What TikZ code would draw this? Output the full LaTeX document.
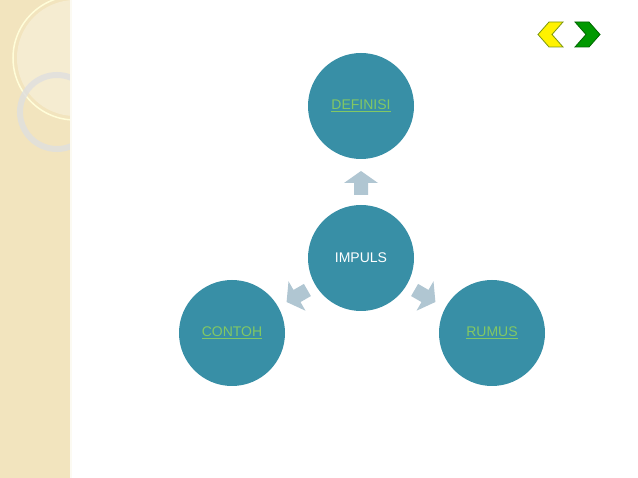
\documentclass[tikz,border=0pt]{standalone}
\usepackage{fontspec}
\setmainfont{Liberation Sans}
\begin{document}
\begin{tikzpicture}[x=1pt,y=-1pt,
  bub/.style={circle,minimum size=106pt,inner sep=0pt,font=\fontsize{14}{16}\selectfont}]
\definecolor{bubc}{RGB}{56,143,166}
\definecolor{side}{RGB}{242,228,190}
\definecolor{arrc}{RGB}{176,198,210}
\definecolor{lnk}{RGB}{130,200,100}
\useasboundingbox (0,0) rectangle (638,478);
\fill[white] (0,0) rectangle (638,478);
% sidebar
\begin{scope}
\clip (0,0) rectangle (70,478);
\fill[side] (0,0) rectangle (70,478);
\fill[white,opacity=0.3] (75,58) circle (58);
\draw[white!85!yellow,line width=1.5pt] (75,58) circle (62);
\draw[gray!25,line width=6pt,opacity=0.8] (57,112) circle (37);
\end{scope}
\draw[white!80!side,line width=2pt] (71,0) -- (71,478);
% nav chevrons
\fill[yellow,draw=olive!70!green,line width=0.8pt] (563,22) -- (552,34.5) -- (563,47) -- (549,47) -- (538,34.5) -- (549,22) -- cycle;
\fill[green!60!black,draw=green!40!black,line width=0.8pt] (575,22) -- (589,22) -- (600,34.5) -- (589,47) -- (575,47) -- (586,34.5) -- cycle;
% bubbles
\node[bub,fill=bubc,text=white] (imp) at (361,258) {IMPULS};
\node[bub,fill=bubc,text=lnk] (def) at (361,106) {\underline{DEFINISI}};
\node[bub,fill=bubc,text=lnk] (con) at (232,333) {\underline{CONTOH}};
\node[bub,fill=bubc,text=lnk] (rum) at (492,333) {\underline{RUMUS}};
% arrows
\foreach \ang/\cx/\cy in {90/361/183, -30/297/296, 210/425/296}{
 \fill[arrc,shift={(\cx,\cy)},rotate=-\ang+90]
  (-7,12) -- (-7,0) -- (-17,0) -- (0,-12) -- (17,0) -- (7,0) -- (7,12) -- cycle;}
\end{tikzpicture}
\end{document}
